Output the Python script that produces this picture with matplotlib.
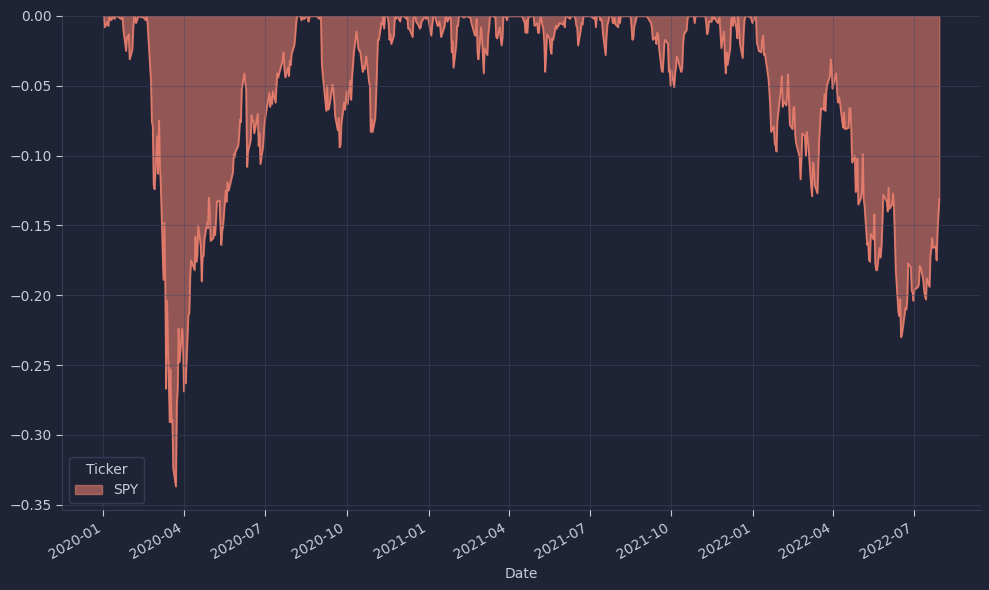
import matplotlib
matplotlib.use("Agg")
import matplotlib.pyplot as plt
import matplotlib.dates as mdates
from matplotlib.patches import Patch
import pandas as pd

# SPY drawdown from running peak (trading days)
spy_2020 = [
    ("2020-01-02", 0.000), ("2020-01-03", -0.008), ("2020-01-06", -0.004), ("2020-01-07", -0.007),
    ("2020-01-08", -0.001), ("2020-01-09", 0.000), ("2020-01-10", -0.003), ("2020-01-13", 0.000),
    ("2020-01-14", -0.002), ("2020-01-15", 0.000), ("2020-01-16", 0.000), ("2020-01-17", 0.000),
    ("2020-01-21", -0.002), ("2020-01-22", -0.002), ("2020-01-23", -0.001), ("2020-01-24", -0.010),
    ("2020-01-27", -0.025), ("2020-01-28", -0.015), ("2020-01-29", -0.016), ("2020-01-30", -0.013),
    ("2020-01-31", -0.031), ("2020-02-03", -0.024), ("2020-02-04", -0.009), ("2020-02-05", 0.000),
    ("2020-02-06", 0.000), ("2020-02-07", -0.005), ("2020-02-10", 0.000), ("2020-02-11", 0.000),
    ("2020-02-12", 0.000), ("2020-02-13", -0.001), ("2020-02-14", 0.000), ("2020-02-18", -0.003),
    ("2020-02-19", 0.000), ("2020-02-20", -0.004), ("2020-02-21", -0.015), ("2020-02-24", -0.047),
    ("2020-02-25", -0.076), ("2020-02-26", -0.079), ("2020-02-27", -0.121), ("2020-02-28", -0.124),
    ("2020-03-02", -0.086), ("2020-03-03", -0.113), ("2020-03-04", -0.075), ("2020-03-05", -0.106),
    ("2020-03-06", -0.121), ("2020-03-09", -0.189), ("2020-03-10", -0.148), ("2020-03-11", -0.189),
    ("2020-03-12", -0.267), ("2020-03-13", -0.204), ("2020-03-16", -0.291), ("2020-03-17", -0.253),
    ("2020-03-18", -0.291), ("2020-03-19", -0.289), ("2020-03-20", -0.324), ("2020-03-23", -0.337),
    ("2020-03-24", -0.278), ("2020-03-25", -0.267), ("2020-03-26", -0.224), ("2020-03-27", -0.248),
    ("2020-03-30", -0.224), ("2020-03-31", -0.235), ("2020-04-01", -0.269), ("2020-04-02", -0.253),
    ("2020-04-03", -0.263), ("2020-04-06", -0.214), ("2020-04-07", -0.213), ("2020-04-08", -0.187),
    ("2020-04-09", -0.175), ("2020-04-13", -0.182), ("2020-04-14", -0.158), ("2020-04-15", -0.176),
    ("2020-04-16", -0.172), ("2020-04-17", -0.150), ("2020-04-20", -0.165), ("2020-04-21", -0.190),
    ("2020-04-22", -0.172), ("2020-04-23", -0.172), ("2020-04-24", -0.160), ("2020-04-27", -0.148),
    ("2020-04-28", -0.152), ("2020-04-29", -0.130), ("2020-04-30", -0.138), ("2020-05-01", -0.161),
    ("2020-05-04", -0.159), ("2020-05-05", -0.151), ("2020-05-06", -0.157), ("2020-05-07", -0.147),
    ("2020-05-08", -0.133), ("2020-05-11", -0.132), ("2020-05-12", -0.150), ("2020-05-13", -0.164),
    ("2020-05-14", -0.154), ("2020-05-15", -0.150), ("2020-05-18", -0.125), ("2020-05-19", -0.133),
    ("2020-05-20", -0.119), ("2020-05-21", -0.125), ("2020-05-22", -0.123), ("2020-05-26", -0.112),
    ("2020-05-27", -0.099), ("2020-05-28", -0.101), ("2020-05-29", -0.097), ("2020-06-01", -0.093),
    ("2020-06-02", -0.086), ("2020-06-03", -0.074), ("2020-06-04", -0.076), ("2020-06-05", -0.052),
    ("2020-06-08", -0.041), ("2020-06-09", -0.048), ("2020-06-10", -0.053), ("2020-06-11", -0.108),
    ("2020-06-12", -0.097), ("2020-06-15", -0.089), ("2020-06-16", -0.071), ("2020-06-17", -0.075),
    ("2020-06-18", -0.075), ("2020-06-19", -0.084), ("2020-06-22", -0.074), ("2020-06-23", -0.070),
    ("2020-06-24", -0.093), ("2020-06-25", -0.084), ("2020-06-26", -0.106), ("2020-06-29", -0.093),
    ("2020-06-30", -0.081), ("2020-07-01", -0.075), ("2020-07-02", -0.070), ("2020-07-06", -0.055),
    ("2020-07-07", -0.065), ("2020-07-08", -0.058), ("2020-07-09", -0.063), ("2020-07-10", -0.054),
    ("2020-07-13", -0.062), ("2020-07-14", -0.050), ("2020-07-15", -0.041), ("2020-07-16", -0.044),
    ("2020-07-17", -0.041), ("2020-07-20", -0.034), ("2020-07-21", -0.032), ("2020-07-22", -0.026),
    ("2020-07-23", -0.038), ("2020-07-24", -0.044), ("2020-07-27", -0.037), ("2020-07-28", -0.043),
    ("2020-07-29", -0.032), ("2020-07-30", -0.035), ("2020-07-31", -0.027), ("2020-08-03", -0.021),
    ("2020-08-04", -0.015), ("2020-08-05", -0.006), ("2020-08-06", 0.000), ("2020-08-07", 0.000),
    ("2020-08-10", 0.000), ("2020-08-11", -0.003), ("2020-08-12", 0.000), ("2020-08-13", -0.002),
    ("2020-08-14", -0.002), ("2020-08-17", 0.000), ("2020-08-18", 0.000), ("2020-08-19", -0.004),
    ("2020-08-20", -0.001), ("2020-08-21", 0.000), ("2020-08-24", 0.000), ("2020-08-28", 0.000),
    ("2020-08-31", -0.002), ("2020-09-01", 0.000), ("2020-09-02", 0.000), ("2020-09-03", -0.034),
    ("2020-09-04", -0.042), ("2020-09-08", -0.068), ("2020-09-09", -0.050), ("2020-09-10", -0.067),
    ("2020-09-11", -0.066), ("2020-09-14", -0.054), ("2020-09-15", -0.049), ("2020-09-16", -0.053),
    ("2020-09-17", -0.061), ("2020-09-18", -0.072), ("2020-09-21", -0.082), ("2020-09-22", -0.073),
    ("2020-09-23", -0.094), ("2020-09-24", -0.092), ("2020-09-25", -0.077), ("2020-09-28", -0.062),
    ("2020-09-29", -0.067), ("2020-09-30", -0.060), ("2020-10-01", -0.054), ("2020-10-02", -0.063),
    ("2020-10-05", -0.046), ("2020-10-06", -0.060), ("2020-10-07", -0.043), ("2020-10-08", -0.035),
    ("2020-10-09", -0.026), ("2020-10-12", -0.011), ("2020-10-13", -0.017), ("2020-10-14", -0.023),
    ("2020-10-15", -0.025), ("2020-10-16", -0.025), ("2020-10-19", -0.040), ("2020-10-20", -0.036),
    ("2020-10-21", -0.038), ("2020-10-22", -0.033), ("2020-10-23", -0.029), ("2020-10-26", -0.047),
    ("2020-10-27", -0.050), ("2020-10-28", -0.083), ("2020-10-29", -0.074), ("2020-10-30", -0.083),
    ("2020-11-02", -0.073), ("2020-11-03", -0.057), ("2020-11-04", -0.036), ("2020-11-05", -0.017),
    ("2020-11-06", -0.017), ("2020-11-09", -0.005), ("2020-11-10", -0.006), ("2020-11-11", 0.000),
    ("2020-11-12", -0.009), ("2020-11-13", 0.000), ("2020-11-16", 0.000), ("2020-11-17", -0.005),
    ("2020-11-18", -0.017), ("2020-11-19", -0.013), ("2020-11-20", -0.020), ("2020-11-23", -0.014),
    ("2020-11-24", 0.000), ("2020-11-25", -0.002), ("2020-11-27", 0.000), ("2020-11-30", -0.004),
    ("2020-12-01", 0.000), ("2020-12-04", 0.000), ("2020-12-07", -0.002), ("2020-12-08", 0.000),
    ("2020-12-09", -0.009), ("2020-12-10", -0.009), ("2020-12-11", -0.010), ("2020-12-14", -0.015),
    ("2020-12-15", -0.002), ("2020-12-16", 0.000), ("2020-12-17", 0.000), ("2020-12-18", -0.004),
    ("2020-12-21", -0.007), ("2020-12-22", -0.009), ("2020-12-23", -0.008), ("2020-12-24", -0.004),
    ("2020-12-28", 0.000), ("2020-12-29", -0.002), ("2020-12-30", -0.001), ("2020-12-31", 0.000),
]

spy_2021 = [
    ("2021-01-04", -0.014), ("2021-01-05", -0.007), ("2021-01-06", -0.001), ("2021-01-07", 0.000),
    ("2021-01-08", 0.000), ("2021-01-11", -0.007), ("2021-01-12", -0.007), ("2021-01-13", -0.004),
    ("2021-01-14", -0.007), ("2021-01-15", -0.015), ("2021-01-19", -0.007), ("2021-01-20", 0.000),
    ("2021-01-21", 0.000), ("2021-01-22", -0.004), ("2021-01-25", 0.000), ("2021-01-26", -0.002),
    ("2021-01-27", -0.026), ("2021-01-28", -0.018), ("2021-01-29", -0.037), ("2021-02-01", -0.021),
    ("2021-02-02", -0.007), ("2021-02-03", -0.007), ("2021-02-04", 0.000), ("2021-02-05", 0.000),
    ("2021-02-08", 0.000), ("2021-02-09", -0.001), ("2021-02-10", -0.001), ("2021-02-11", 0.000),
    ("2021-02-12", 0.000), ("2021-02-16", -0.001), ("2021-02-17", -0.001), ("2021-02-18", -0.005),
    ("2021-02-19", -0.007), ("2021-02-22", -0.014), ("2021-02-23", -0.013), ("2021-02-24", -0.002),
    ("2021-02-25", -0.026), ("2021-02-26", -0.031), ("2021-03-01", -0.008), ("2021-03-02", -0.016),
    ("2021-03-03", -0.029), ("2021-03-04", -0.041), ("2021-03-05", -0.023), ("2021-03-08", -0.028),
    ("2021-03-09", -0.014), ("2021-03-10", -0.008), ("2021-03-11", 0.000), ("2021-03-12", 0.000),
    ("2021-03-15", 0.000), ("2021-03-16", -0.001), ("2021-03-17", 0.000), ("2021-03-18", -0.015),
    ("2021-03-19", -0.016), ("2021-03-22", -0.008), ("2021-03-23", -0.016), ("2021-03-24", -0.021),
    ("2021-03-25", -0.016), ("2021-03-26", 0.000), ("2021-03-29", -0.001), ("2021-03-30", -0.003),
    ("2021-03-31", 0.000), ("2021-04-01", 0.000), ("2021-04-05", 0.000), ("2021-04-09", 0.000),
    ("2021-04-13", 0.000), ("2021-04-16", 0.000), ("2021-04-19", -0.005), ("2021-04-20", -0.012),
    ("2021-04-21", -0.003), ("2021-04-22", -0.012), ("2021-04-23", -0.001), ("2021-04-26", 0.000),
    ("2021-04-29", 0.000), ("2021-04-30", -0.007), ("2021-05-03", -0.005), ("2021-05-04", -0.012),
    ("2021-05-05", -0.012), ("2021-05-06", -0.004), ("2021-05-07", 0.000), ("2021-05-10", -0.010),
    ("2021-05-11", -0.019), ("2021-05-12", -0.040), ("2021-05-13", -0.028), ("2021-05-14", -0.013),
    ("2021-05-17", -0.016), ("2021-05-18", -0.024), ("2021-05-19", -0.027), ("2021-05-20", -0.016),
    ("2021-05-21", -0.017), ("2021-05-24", -0.007), ("2021-05-25", -0.009), ("2021-05-26", -0.007),
    ("2021-05-27", -0.007), ("2021-05-28", -0.005), ("2021-06-01", -0.006), ("2021-06-02", -0.004),
    ("2021-06-03", -0.008), ("2021-06-04", 0.000), ("2021-06-07", -0.001), ("2021-06-09", -0.002),
    ("2021-06-10", 0.000), ("2021-06-14", 0.000), ("2021-06-15", -0.002), ("2021-06-16", -0.007),
    ("2021-06-17", -0.008), ("2021-06-18", -0.021), ("2021-06-21", -0.010), ("2021-06-22", -0.005),
    ("2021-06-23", -0.006), ("2021-06-24", 0.000), ("2021-07-02", 0.000), ("2021-07-06", -0.002),
    ("2021-07-07", 0.000), ("2021-07-08", -0.008), ("2021-07-09", 0.000), ("2021-07-12", 0.000),
    ("2021-07-13", -0.003), ("2021-07-14", -0.002), ("2021-07-15", -0.005), ("2021-07-16", -0.013),
    ("2021-07-19", -0.028), ("2021-07-20", -0.014), ("2021-07-21", -0.006), ("2021-07-22", -0.004),
    ("2021-07-23", 0.000), ("2021-07-26", 0.000), ("2021-07-27", -0.005), ("2021-07-28", -0.005),
    ("2021-07-29", -0.001), ("2021-07-30", -0.006), ("2021-08-02", -0.008), ("2021-08-03", 0.000),
    ("2021-08-04", -0.005), ("2021-08-05", 0.000), ("2021-08-16", 0.000), ("2021-08-17", -0.007),
    ("2021-08-18", -0.017), ("2021-08-19", -0.016), ("2021-08-20", -0.008), ("2021-08-23", 0.000),
    ("2021-09-02", 0.000), ("2021-09-03", 0.000), ("2021-09-07", -0.004), ("2021-09-08", -0.005),
    ("2021-09-09", -0.009), ("2021-09-10", -0.017), ("2021-09-13", -0.015), ("2021-09-14", -0.020),
    ("2021-09-15", -0.012), ("2021-09-16", -0.013), ("2021-09-17", -0.023), ("2021-09-20", -0.039),
    ("2021-09-21", -0.040), ("2021-09-22", -0.031), ("2021-09-23", -0.019), ("2021-09-24", -0.017),
    ("2021-09-27", -0.020), ("2021-09-28", -0.040), ("2021-09-29", -0.038), ("2021-09-30", -0.050),
    ("2021-10-01", -0.039), ("2021-10-04", -0.051), ("2021-10-05", -0.041), ("2021-10-06", -0.037),
    ("2021-10-07", -0.029), ("2021-10-08", -0.031), ("2021-10-11", -0.038), ("2021-10-12", -0.040),
    ("2021-10-13", -0.037), ("2021-10-14", -0.020), ("2021-10-15", -0.013), ("2021-10-18", -0.010),
    ("2021-10-19", -0.002), ("2021-10-20", 0.000), ("2021-10-26", 0.000), ("2021-10-27", -0.005),
    ("2021-10-28", 0.000), ("2021-11-08", 0.000), ("2021-11-09", -0.005), ("2021-11-10", -0.013),
    ("2021-11-11", -0.011), ("2021-11-12", -0.004), ("2021-11-15", -0.004), ("2021-11-16", 0.000),
    ("2021-11-17", -0.002), ("2021-11-18", 0.000), ("2021-11-19", -0.002), ("2021-11-22", -0.005),
    ("2021-11-23", -0.003), ("2021-11-24", -0.001), ("2021-11-26", -0.023), ("2021-11-29", -0.011),
    ("2021-11-30", -0.030), ("2021-12-01", -0.041), ("2021-12-02", -0.026), ("2021-12-03", -0.035),
    ("2021-12-06", -0.023), ("2021-12-07", -0.003), ("2021-12-08", -0.001), ("2021-12-09", -0.007),
    ("2021-12-10", 0.000), ("2021-12-13", -0.009), ("2021-12-14", -0.016), ("2021-12-15", 0.000),
    ("2021-12-16", -0.009), ("2021-12-17", -0.020), ("2021-12-20", -0.030), ("2021-12-21", -0.013),
    ("2021-12-22", -0.003), ("2021-12-23", 0.000), ("2021-12-27", 0.000), ("2021-12-28", -0.001),
    ("2021-12-29", 0.000), ("2021-12-30", -0.003), ("2021-12-31", -0.005),
]

spy_2022 = [
    ("2022-01-03", 0.000), ("2022-01-04", -0.001), ("2022-01-05", -0.020), ("2022-01-06", -0.021),
    ("2022-01-07", -0.025), ("2022-01-10", -0.026), ("2022-01-11", -0.017), ("2022-01-12", -0.014),
    ("2022-01-13", -0.028), ("2022-01-14", -0.027), ("2022-01-18", -0.045), ("2022-01-19", -0.054),
    ("2022-01-20", -0.065), ("2022-01-21", -0.083), ("2022-01-24", -0.079), ("2022-01-25", -0.091),
    ("2022-01-26", -0.093), ("2022-01-27", -0.097), ("2022-01-28", -0.075), ("2022-01-31", -0.058),
    ("2022-02-01", -0.052), ("2022-02-02", -0.043), ("2022-02-03", -0.065), ("2022-02-04", -0.061),
    ("2022-02-07", -0.064), ("2022-02-08", -0.056), ("2022-02-09", -0.042), ("2022-02-10", -0.059),
    ("2022-02-11", -0.078), ("2022-02-14", -0.081), ("2022-02-15", -0.066), ("2022-02-16", -0.065),
    ("2022-02-17", -0.085), ("2022-02-18", -0.091), ("2022-02-22", -0.101), ("2022-02-23", -0.117),
    ("2022-02-24", -0.103), ("2022-02-25", -0.084), ("2022-02-28", -0.086), ("2022-03-01", -0.100),
    ("2022-03-02", -0.083), ("2022-03-03", -0.088), ("2022-03-04", -0.095), ("2022-03-07", -0.122),
    ("2022-03-08", -0.129), ("2022-03-09", -0.105), ("2022-03-10", -0.109), ("2022-03-11", -0.121),
    ("2022-03-14", -0.127), ("2022-03-15", -0.108), ("2022-03-16", -0.088), ("2022-03-17", -0.077),
    ("2022-03-18", -0.066), ("2022-03-21", -0.067), ("2022-03-22", -0.056), ("2022-03-23", -0.068),
    ("2022-03-24", -0.054), ("2022-03-25", -0.049), ("2022-03-28", -0.043), ("2022-03-29", -0.031),
    ("2022-03-30", -0.037), ("2022-03-31", -0.052), ("2022-04-01", -0.049), ("2022-04-04", -0.041),
    ("2022-04-05", -0.053), ("2022-04-06", -0.062), ("2022-04-07", -0.058), ("2022-04-08", -0.060),
    ("2022-04-11", -0.076), ("2022-04-12", -0.080), ("2022-04-13", -0.069), ("2022-04-14", -0.081),
    ("2022-04-18", -0.080), ("2022-04-19", -0.066), ("2022-04-20", -0.066), ("2022-04-21", -0.080),
    ("2022-04-22", -0.105), ("2022-04-25", -0.100), ("2022-04-26", -0.126), ("2022-04-27", -0.124),
    ("2022-04-28", -0.102), ("2022-04-29", -0.135), ("2022-05-02", -0.130), ("2022-05-03", -0.126),
    ("2022-05-04", -0.099), ("2022-05-05", -0.131), ("2022-05-06", -0.136), ("2022-05-09", -0.164),
    ("2022-05-10", -0.162), ("2022-05-11", -0.175), ("2022-05-12", -0.176), ("2022-05-13", -0.156),
    ("2022-05-16", -0.160), ("2022-05-17", -0.142), ("2022-05-18", -0.177), ("2022-05-19", -0.182),
    ("2022-05-20", -0.182), ("2022-05-23", -0.166), ("2022-05-24", -0.173), ("2022-05-25", -0.165),
    ("2022-05-26", -0.149), ("2022-05-27", -0.128), ("2022-05-31", -0.133), ("2022-06-01", -0.140),
    ("2022-06-02", -0.123), ("2022-06-03", -0.138), ("2022-06-06", -0.135), ("2022-06-07", -0.127),
    ("2022-06-08", -0.136), ("2022-06-09", -0.157), ("2022-06-10", -0.181), ("2022-06-13", -0.212),
    ("2022-06-14", -0.215), ("2022-06-15", -0.203), ("2022-06-16", -0.230), ("2022-06-17", -0.228),
    ("2022-06-21", -0.209), ("2022-06-22", -0.210), ("2022-06-23", -0.203), ("2022-06-24", -0.177),
    ("2022-06-27", -0.180), ("2022-06-28", -0.197), ("2022-06-29", -0.198), ("2022-06-30", -0.204),
    ("2022-07-01", -0.196), ("2022-07-05", -0.194), ("2022-07-06", -0.192), ("2022-07-07", -0.179),
    ("2022-07-08", -0.180), ("2022-07-11", -0.189), ("2022-07-12", -0.197), ("2022-07-13", -0.201),
    ("2022-07-14", -0.203), ("2022-07-15", -0.188), ("2022-07-18", -0.194), ("2022-07-19", -0.172),
    ("2022-07-20", -0.167), ("2022-07-21", -0.159), ("2022-07-22", -0.166), ("2022-07-25", -0.165),
    ("2022-07-26", -0.175), ("2022-07-27", -0.154), ("2022-07-28", -0.143), ("2022-07-29", -0.131),
]

ticker = "SPY"

bg = "#1f2336"
fg = "#c9cbd6"
spine_col = "#363c55"
grid_col = "#444a62"
line_col = "#e07a6b"

rows = spy_2020 + spy_2021 + spy_2022
dd = pd.Series([r[1] for r in rows], index=pd.to_datetime([r[0] for r in rows]))

fig = plt.figure(figsize=(9.89, 5.9), dpi=100, facecolor=bg)
ax = fig.add_axes([0.0627, 0.1356, 0.9292, 0.8373])
ax.set_facecolor(bg)

ax.fill_between(dd.index, 0, dd.values, color=line_col, alpha=0.6, linewidth=1.0)
ax.plot(dd.index, dd.values, color=line_col, linewidth=1.2)

# top pinned at zero, 5% padding below the deepest point
ax.set_ylim(dd.min() * 1.05, 0)

ax.xaxis.set_major_locator(mdates.MonthLocator(bymonth=[1, 4, 7, 10]))
ax.xaxis.set_major_formatter(mdates.DateFormatter("%Y-%m"))
for lbl in ax.get_xticklabels():
    lbl.set_rotation(30)
    lbl.set_ha("right")

ax.grid(True, color=grid_col, alpha=0.45, linewidth=0.8)
ax.set_axisbelow(False)

for s in ["top", "right"]:
    ax.spines[s].set_visible(False)
for s in ["left", "bottom"]:
    ax.spines[s].set_color(spine_col)
ax.tick_params(colors=fg, labelsize=10, length=4)
ax.set_xlabel("Date", color=fg, fontsize=10)

handle = Patch(facecolor=line_col, alpha=0.6, edgecolor=line_col)
leg = ax.legend([handle], [ticker], title="Ticker", loc="lower left",
                facecolor=bg, edgecolor=spine_col, framealpha=1.0, fontsize=10)
leg.get_title().set_color(fg)
leg.get_title().set_fontsize(10)
for t in leg.get_texts():
    t.set_color(fg)

fig.savefig("out.png", dpi=100, facecolor=bg)
